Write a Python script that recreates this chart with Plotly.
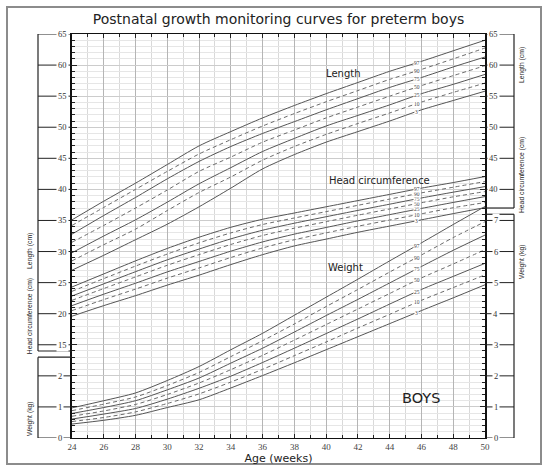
import numpy as np
import plotly.graph_objects as go

weeks = [24, 26, 28, 30, 32, 34, 36, 38, 40, 42, 44, 46, 48, 50]
pct_names = ["3", "10", "25", "50", "75", "90", "97"]

length_p3 = [27.0, 29.4, 31.9, 34.4, 37.2, 40.2, 43.3, 45.6, 47.6, 49.3, 51.0, 52.8, 54.3, 55.8]
length_p10 = [28.5, 31.1, 33.6, 36.6, 39.5, 42.0, 44.7, 46.9, 48.85, 50.6, 52.3, 54.05, 55.6, 57.1]
length_p25 = [29.8, 32.5, 35.1, 37.95, 40.9, 43.5, 46.1, 48.2, 50.2, 51.9, 53.6, 55.4, 56.9, 58.5]
length_p50 = [31.5, 34.2, 37.0, 39.9, 42.9, 45.2, 47.6, 49.55, 51.5, 53.25, 55.0, 56.7, 58.3, 59.9]
length_p75 = [32.8, 35.8, 38.7, 41.7, 44.5, 46.9, 49.0, 50.9, 52.8, 54.6, 56.4, 58.0, 59.7, 61.3]
length_p90 = [34.2, 37.1, 40.0, 42.9, 45.7, 48.0, 50.2, 52.2, 54.1, 55.9, 57.7, 59.3, 61.0, 62.75]
length_p97 = [35.1, 38.1, 41.0, 44.0, 47.0, 49.3, 51.5, 53.5, 55.4, 57.2, 59.0, 60.6, 62.3, 64.0]

hc_p3 = [19.6, 21.3, 22.9, 24.6, 26.2, 27.9, 29.5, 30.9, 32.0, 33.1, 34.1, 35.1, 36.1, 37.07]
hc_p10 = [20.5, 22.27, 23.96, 25.72, 27.36, 29.04, 30.58, 31.9, 33.0, 34.07, 35.07, 36.07, 37.05, 37.88]
hc_p25 = [21.3, 23.14, 24.9, 26.72, 28.4, 30.06, 31.55, 32.8, 33.87, 34.94, 35.94, 36.94, 37.9, 38.84]
hc_p50 = [22.15, 24.05, 25.92, 27.79, 29.5, 31.14, 32.58, 33.76, 34.8, 35.85, 36.85, 37.85, 38.8, 39.65]
hc_p75 = [22.85, 24.8, 26.76, 28.67, 30.4, 32.04, 33.43, 34.56, 35.6, 36.62, 37.62, 38.62, 39.55, 40.45]
hc_p90 = [23.6, 25.65, 27.66, 29.6, 31.4, 33.0, 34.35, 35.4, 36.42, 37.44, 38.44, 39.44, 40.35, 41.26]
hc_p97 = [24.3, 26.4, 28.5, 30.5, 32.3, 33.9, 35.2, 36.2, 37.2, 38.2, 39.2, 40.2, 41.1, 42.06]

weight_p3 = [0.45, 0.57, 0.73, 0.98, 1.23, 1.61, 2.01, 2.42, 2.84, 3.26, 3.68, 4.10, 4.51, 4.93]
weight_p10 = [0.53, 0.66, 0.84, 1.11, 1.42, 1.80, 2.21, 2.65, 3.09, 3.54, 3.98, 4.43, 4.84, 5.25]
weight_p25 = [0.61, 0.77, 0.95, 1.25, 1.60, 1.99, 2.43, 2.89, 3.36, 3.83, 4.31, 4.78, 5.20, 5.62]
weight_p50 = [0.70, 0.87, 1.08, 1.40, 1.77, 2.20, 2.66, 3.15, 3.65, 4.15, 4.65, 5.15, 5.60, 6.06]
weight_p75 = [0.79, 0.98, 1.20, 1.55, 1.93, 2.41, 2.89, 3.41, 3.94, 4.46, 4.99, 5.52, 6.04, 6.53]
weight_p90 = [0.88, 1.09, 1.32, 1.69, 2.11, 2.62, 3.13, 3.67, 4.23, 4.78, 5.34, 5.89, 6.45, 6.96]
weight_p97 = [0.97, 1.20, 1.45, 1.85, 2.30, 2.84, 3.37, 3.95, 4.53, 5.11, 5.70, 6.28, 6.87, 7.45]

left_cm_ticks = [65, 60, 55, 50, 45, 40, 35, 30, 25, 20, 15]
left_kg_ticks = [0, 1, 2]
right_cm_ticks = [65, 60, 55, 50, 45, 40]
right_kg_ticks = [0, 1, 2, 3, 4, 5, 6, 7]

length_sets = [length_p3, length_p10, length_p25, length_p50, length_p75, length_p90, length_p97]
hc_sets = [hc_p3, hc_p10, hc_p25, hc_p50, hc_p75, hc_p90, hc_p97]
weight_sets = [weight_p3, weight_p10, weight_p25, weight_p50, weight_p75, weight_p90, weight_p97]

SOLID = "#555555"
DASH = "#6a6a6a"

fig = go.Figure()

def add_set(sets, yaxis):
    for name, vals in zip(pct_names, sets):
        dashed = name in ("10", "50", "90")
        fig.add_trace(go.Scatter(
            x=weeks, y=vals, mode="lines", yaxis=yaxis,
            line=dict(color=DASH if dashed else SOLID, width=1.0,
                      dash="4px,3px" if dashed else "solid",
                      shape="spline", smoothing=0.7),
            hoverinfo="skip", showlegend=False))

add_set(length_sets, "y")
add_set(hc_sets, "y")
add_set(weight_sets, "y2")

annotations = []
LABEL_X = 45.7
for sets, yref in ((length_sets, "y"), (hc_sets, "y"), (weight_sets, "y2")):
    for name, vals in zip(pct_names, sets):
        annotations.append(dict(
            x=LABEL_X, y=float(np.interp(LABEL_X, weeks, vals)), xref="x", yref=yref,
            text=name, showarrow=False, bgcolor="white", borderpad=0,
            font=dict(family="Liberation Serif, serif", size=5.5, color="#444")))

# Section labels
for txt, x, y, size in (("Length", 41.1, 58.6, 10), ("Head circumference", 43.33, 41.5, 10),
                        ("Weight", 41.2, 27.5, 10), ("BOYS", 45.98, 6.4, 14.5)):
    annotations.append(dict(x=x, y=y, xref="x", yref="y", text=txt, showarrow=False,
                            font=dict(family="DejaVu Sans, sans-serif", size=size, color="#222")))

PX0, PW = 72, 413
def px(p):
    return (p - PX0) / PW

LX = px(38)
RX = px(514)
shapes = []
line_style = dict(color="#222", width=1.2)

# left brackets
shapes.append(dict(type="line", xref="paper", yref="y", x0=LX, x1=LX, y0=14, y1=65, line=line_style))
shapes.append(dict(type="line", xref="paper", yref="y", x0=LX, x1=0, y0=14, y1=14, line=line_style))
shapes.append(dict(type="line", xref="paper", yref="y2", x0=LX, x1=LX, y0=0, y1=2.6, line=line_style))
shapes.append(dict(type="line", xref="paper", yref="y2", x0=LX, x1=0, y0=2.6, y1=2.6, line=line_style))
# right brackets
shapes.append(dict(type="line", xref="paper", yref="y", x0=RX, x1=RX, y0=37, y1=65, line=line_style))
shapes.append(dict(type="line", xref="paper", yref="y", x0=1, x1=RX, y0=37, y1=37, line=line_style))
shapes.append(dict(type="line", xref="paper", yref="y2", x0=RX, x1=RX, y0=0, y1=7.2, line=line_style))
shapes.append(dict(type="line", xref="paper", yref="y2", x0=1, x1=RX, y0=7.2, y1=7.2, line=line_style))

tick_font = dict(family="Liberation Serif, serif", size=8.5, color="#333")
for v in left_cm_ticks:
    shapes.append(dict(type="line", xref="paper", yref="y", x0=LX, x1=0, y0=v, y1=v, line=dict(color="#222", width=1)))
    annotations.append(dict(x=px(56), y=v, xref="paper", yref="y", text=str(v), showarrow=False,
                            bgcolor="white", borderpad=1, font=tick_font))
for v in left_kg_ticks:
    shapes.append(dict(type="line", xref="paper", yref="y2", x0=LX, x1=0, y0=v, y1=v, line=dict(color="#222", width=1)))
    annotations.append(dict(x=px(56), y=v, xref="paper", yref="y2", text=str(v), showarrow=False,
                            bgcolor="white", borderpad=1, font=tick_font))
for v in right_cm_ticks:
    shapes.append(dict(type="line", xref="paper", yref="y", x0=1, x1=RX, y0=v, y1=v, line=dict(color="#222", width=1)))
    annotations.append(dict(x=px(500), y=v, xref="paper", yref="y", text=str(v), showarrow=False,
                            bgcolor="white", borderpad=1, font=tick_font))
for v in right_kg_ticks:
    shapes.append(dict(type="line", xref="paper", yref="y2", x0=1, x1=RX, y0=v, y1=v, line=dict(color="#222", width=1)))
    annotations.append(dict(x=px(500), y=v, xref="paper", yref="y2", text=str(v), showarrow=False,
                            bgcolor="white", borderpad=1, font=tick_font))

# side titles
side_font = dict(family="Liberation Sans, Arial, sans-serif", size=6.8, color="#222")
for txt, x, y, yref in (("Length (cm)", px(24), 30.1, "y"), ("Head circumference (cm)", px(24), 19.6, "y"),
                        ("Weight (kg)", px(24), 0.61, "y2"),
                        ("Length (cm)", px(528), 60.0, "y"), ("Head circumference (cm)", px(528), 42.3, "y"),
                        ("Weight (kg)", px(528), 5.66, "y2")):
    annotations.append(dict(x=x, y=y, xref="paper", yref=yref, text=txt, showarrow=False,
                            textangle=-90, font=side_font))

# outer frame
shapes.append(dict(type="rect", xref="paper", yref="paper", x0=px(7), x1=px(541),
                   y0=(438 - 464) / 404, y1=(438 - 7) / 404, line=dict(color="#8c8c8c", width=2)))

fig.update_layout(
    width=550, height=474,
    margin=dict(l=72, r=65, t=34, b=36),
    paper_bgcolor="white", plot_bgcolor="white",
    showlegend=False,
    title=dict(text="Postnatal growth monitoring curves for preterm boys", x=0.5, xref="paper",
               xanchor="center", y=1 - 19 / 474, yanchor="middle",
               font=dict(family="DejaVu Sans, sans-serif", size=14, color="#222")),
    xaxis=dict(range=[24, 50], tick0=24, dtick=2, ticks="inside", ticklen=4, tickcolor="#222",
               showline=True, linecolor="#111", linewidth=1.2, mirror="ticks",
               showgrid=True, gridcolor="#b5b5b5", gridwidth=1, zeroline=False,
               minor=dict(dtick=1, tick0=24, showgrid=True, gridcolor="#d9d9d9", ticks="inside",
                          ticklen=3, tickcolor="#222"),
               tickfont=dict(family="Liberation Serif, serif", size=9, color="#444"),
               title=dict(text="Age (weeks)", standoff=0,
                          font=dict(family="DejaVu Sans, sans-serif", size=11, color="#222"))),
    yaxis=dict(range=[0, 65], tick0=0, dtick=5, ticks="inside", ticklen=5, tickcolor="#222",
               showticklabels=False, showline=True, linecolor="#111", linewidth=2, mirror="ticks",
               showgrid=True, gridcolor="#cccccc", zeroline=False,
               minor=dict(dtick=1, showgrid=True, gridcolor="#e6e6e6", ticks="inside", ticklen=3,
                          tickcolor="#222")),
    yaxis2=dict(range=[0, 13], overlaying="y", visible=False, showgrid=False),
    shapes=shapes,
    annotations=annotations,
)

fig.write_html("out.html", config={"displayModeBar": False},
               post_script="document.body.style.margin='0px';")
